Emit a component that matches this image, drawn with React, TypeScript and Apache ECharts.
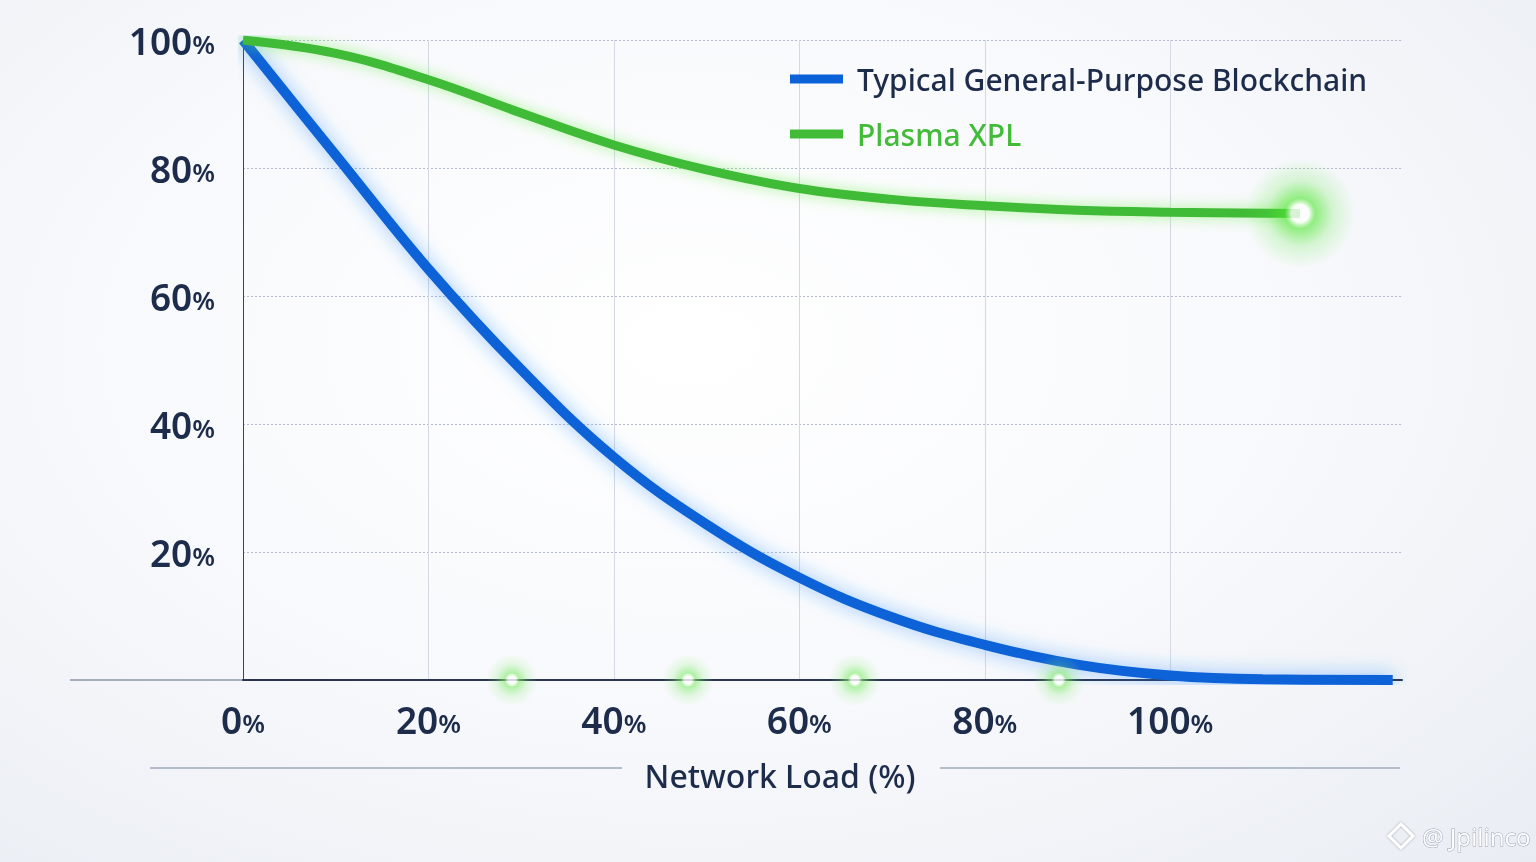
import { useEffect, useRef } from "react";
import * as echarts from "echarts";

// network load (%) on the x axis
const blueLoad = [0, 10, 20, 30, 40, 50, 60, 70, 80, 90, 100, 110, 124];
const blueThroughput = [100, 82, 64.2, 48.5, 34.8, 24.3, 16, 9.8, 5.5, 2.4, 0.7, 0.1, 0];

const greenLoad = [0, 10, 20, 30, 40, 50, 60, 70, 80, 90, 100, 114];
const greenThroughput = [100, 97.9, 93.8, 88.6, 83.6, 79.7, 76.8, 75.1, 74.1, 73.4, 73.1, 72.9];

const xTicks = [0, 20, 40, 60, 80, 100];
const yTicks = [20, 40, 60, 80, 100];

// little sparkles sitting on the zero line
const sparkleLoad = [29, 48, 66, 88];

const seriesNames = ["Typical General-Purpose Blockchain", "Plasma XPL"];

const navy = "#1d2c4a";
const blue = "#0b62d8";
const green = "#41bb38";

const pct = (v: number) => `{n|${v}}{p|%}`;

const glow = (rgb: string) =>
  new echarts.graphic.RadialGradient(0.5, 0.5, 0.5, [
    { offset: 0, color: "rgba(255,255,255,1)" },
    { offset: 0.16, color: "rgba(255,255,255,1)" },
    { offset: 0.28, color: `rgba(${rgb},0.75)` },
    { offset: 0.6, color: `rgba(${rgb},0.25)` },
    { offset: 1, color: `rgba(${rgb},0)` },
  ]);

export default function App() {
  const ref = useRef<HTMLDivElement>(null);

  useEffect(() => {
    if (!ref.current) return;
    const chart = echarts.init(ref.current, undefined, { renderer: "svg" });

    const labelRich = {
      n: { fontSize: 37, fontWeight: 600, color: navy, fontFamily: "Noto Sans" },
      p: { fontSize: 26, fontWeight: 600, color: navy, fontFamily: "Noto Sans", padding: [7, 0, 0, 0] },
    };

    chart.setOption({
      animation: false,
      grid: { left: 243, right: 134, top: 40, bottom: 182 },
      legend: {
        orient: "vertical",
        left: 790,
        top: 64,
        padding: 0,
        itemGap: 25,
        itemWidth: 53,
        itemHeight: 9,
        icon: "rect",
        textStyle: { fontSize: 30, fontFamily: "Noto Sans", fontWeight: 500, padding: [0, 0, 0, 9] },
        data: [
          { name: seriesNames[0], textStyle: { color: navy } },
          { name: seriesNames[1], textStyle: { color: green } },
        ],
      },
      xAxis: {
        type: "value",
        min: 0,
        max: 125,
        interval: 20,
        axisLine: {
          show: true,
          onZero: false,
          lineStyle: { color: "#2a3550", width: 2 },
        },
        axisTick: { show: false },
        splitLine: {
          show: true,
          // ticks: 0, 20, 40, 60, 80, 100, 120, 125 - only 20..100 get a line
          lineStyle: {
            color: ["rgba(0,0,0,0)", "#d3d8e2", "#d3d8e2", "#d3d8e2", "#d3d8e2", "#d3d8e2", "rgba(0,0,0,0)", "rgba(0,0,0,0)"],
            width: 1,
          },
        },
        axisLabel: {
          margin: 21,
          formatter: (v: number) => (xTicks.includes(v) ? pct(v) : ""),
          rich: labelRich,
        },
      },
      yAxis: {
        type: "value",
        min: 0,
        max: 100,
        interval: 20,
        axisLine: { show: true, lineStyle: { color: "#3a4460", width: 1 } },
        axisTick: { show: false },
        splitLine: {
          show: true,
          lineStyle: { color: "#b3bbcc", type: [2, 2], width: 1 },
        },
        axisLabel: {
          margin: 28,
          formatter: (v: number) => (yTicks.includes(v) ? pct(v) : ""),
          rich: labelRich,
        },
      },
      series: [
        {
          name: seriesNames[0],
          type: "line",
          data: blueLoad.map((x, i) => [x, blueThroughput[i]]),
          smooth: 0.4,
          showSymbol: false,
          z: 4,
          color: blue,
          lineStyle: {
            color: blue,
            width: 10,
            shadowBlur: 18,
            shadowColor: "rgba(40,140,255,0.55)",
          },
        },
        {
          name: seriesNames[1],
          type: "line",
          data: greenLoad.map((x, i) => [x, greenThroughput[i]]),
          smooth: 0.4,
          showSymbol: false,
          z: 5,
          color: green,
          lineStyle: {
            color: green,
            width: 9,
            shadowBlur: 14,
            shadowColor: "rgba(110,240,80,0.6)",
          },
        },
        {
          // glowing end of the Plasma XPL line
          type: "scatter",
          silent: true,
          z: 6,
          data: [[greenLoad[greenLoad.length - 1], greenThroughput[greenThroughput.length - 1]]],
          symbolSize: 110,
          itemStyle: { color: glow("80,230,50") },
        },
        {
          // sparkles on the zero line
          type: "scatter",
          silent: true,
          z: 6,
          data: sparkleLoad.map((x) => [x, 0]),
          symbolSize: 52,
          itemStyle: { color: glow("130,235,110") },
        },
        {
          // soft glow along the zero line
          type: "line",
          silent: true,
          z: 3,
          data: [[6, 0], [124, 0]],
          showSymbol: false,
          lineStyle: {
            width: 5,
            color: new echarts.graphic.LinearGradient(0, 0, 1, 0, [
              { offset: 0, color: "rgba(60,200,255,0)" },
              { offset: 0.1, color: "rgba(40,170,255,0.9)" },
              { offset: 0.2, color: "rgba(30,120,60,0.9)" },
              { offset: 0.5, color: "rgba(50,160,40,0.9)" },
              { offset: 0.65, color: "rgba(70,210,240,0.9)" },
              { offset: 0.92, color: "rgba(30,110,220,0.7)" },
              { offset: 1, color: "rgba(30,110,220,0)" },
            ]),
            shadowBlur: 16,
            shadowColor: "rgba(120,230,200,0.8)",
          },
        },
      ],
      graphic: [
        {
          type: "line",
          shape: { x1: 150, y1: 768, x2: 622, y2: 768 },
          style: { stroke: "#b4bccb", lineWidth: 2 },
        },
        {
          type: "line",
          shape: { x1: 940, y1: 768, x2: 1400, y2: 768 },
          style: { stroke: "#b4bccb", lineWidth: 2 },
        },
        {
          type: "line",
          shape: { x1: 70, y1: 680, x2: 243, y2: 680 },
          style: { stroke: "#8d96aa", lineWidth: 1.5 },
        },
        {
          type: "text",
          x: 780,
          y: 775,
          style: {
            text: "Network Load (%)",
            fontSize: 32,
            fontWeight: 500,
            fontFamily: "Noto Sans",
            fill: navy,
            align: "center",
            verticalAlign: "middle",
          },
        },
        {
          type: "polygon",
          shape: { points: [[1401, 824], [1413, 836], [1401, 848], [1389, 836]] },
          style: { fill: "none", stroke: "#ffffff", lineWidth: 3, shadowBlur: 2, shadowColor: "rgba(90,100,120,0.6)" },
        },
        {
          type: "text",
          x: 1422,
          y: 836,
          style: {
            text: "@ Jpilinco",
            fontSize: 24,
            fontFamily: "Noto Sans",
            fill: "#ffffff",
            stroke: "#9aa3b3",
            lineWidth: 1,
            verticalAlign: "middle",
          },
        },
      ],
    });

    return () => chart.dispose();
  }, []);

  return (
    <div
      style={{
        position: "fixed",
        left: 0,
        top: 0,
        width: 1536,
        height: 862,
        background:
          "radial-gradient(ellipse at 45% 40%, #ffffff 0%, #f8f9fc 50%, #e9edf3 100%)",
      }}
    >
      <div ref={ref} style={{ width: 1536, height: 862 }} />
    </div>
  );
}
